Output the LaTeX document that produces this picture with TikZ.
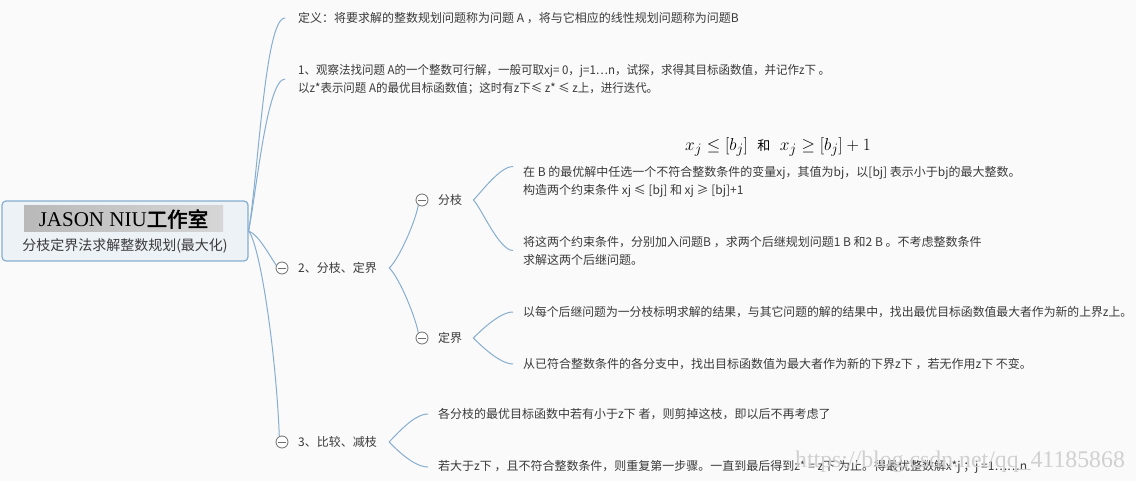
\documentclass[tikz,border=0pt]{standalone}
\usepackage{graphicx}
\usepackage{fontspec}
\setmainfont{Liberation Serif}
\newfontfamily\cjk{Noto Sans CJK SC}
\newfontfamily\cjkbold[FakeBold=2.5]{Noto Sans CJK SC}
\definecolor{bgc}{HTML}{FAFAFA}
\definecolor{txtc}{HTML}{3A3A3A}
\definecolor{togc}{HTML}{6E6E6E}
\definecolor{connc}{HTML}{87AED0}
\definecolor{rootd}{HTML}{86AECF}
\definecolor{rootf}{HTML}{EDF2F7}
\definecolor{wmc}{HTML}{D0D0D0}
\begin{document}
\begin{tikzpicture}[x=1pt,y=-1pt,
  conn/.style={draw=connc, line width=1pt},
  leaf/.style={anchor=west, inner sep=0pt, text=txtc, font=\cjk\fontsize{12}{18}\selectfont, align=left},
  tog/.style={circle, draw=togc, fill=white, line width=0.8pt, minimum size=12pt, inner sep=0pt,
    path picture={\draw[togc, line width=0.8pt] ([xshift=-4pt]path picture bounding box.center) -- ([xshift=4pt]path picture bounding box.center);}},
]
\fill[bgc] (0,0) rectangle (1136,481);
\useasboundingbox (0,0) rectangle (1136,481);

% root
\node[draw=rootd, fill=rootf, rounded corners=4pt, line width=1.2pt, minimum width=246pt, minimum height=60pt, inner sep=0pt] (root) at (125,231) {};
\node[left color=gray!55, right color=gray!32, minimum width=199pt, minimum height=26pt, inner sep=0pt] (banner) at (123.5,219) {};
\node[inner sep=0pt] (bt) at (banner.center) {\fontsize{21}{21}\selectfont JASON NIU{\cjkbold\fontsize{20.5}{21}\selectfont 工作室}};
\node[inner sep=0pt, text=txtc, font=\cjk\fontsize{14}{14}\selectfont] (sub) at (125,246) {分枝定界法求解整数规划(最大化)};

% first level
\node[leaf] (def) at (298,18) {定义：将要求解的整数规划问题称为问题 A ，将与它相应的线性规划问题称为问题B};
\node[leaf] (it1) at (298,79) {\resizebox{532pt}{\height}{1、观察法找问题 A的一个整数可行解，一般可取xj= 0，j=1…n，试探，求得其目标函数值，并记作z下 。}\\\resizebox{360pt}{\height}{以z*表示问题 A的最优目标函数值；这时有z下≤ z* ≤ z上，进行迭代。}};
\node[tog] (t2) at (282,268) {};
\node[leaf] (n2) at (298,268) {2、分枝、定界};
\node[tog] (t3) at (282,442) {};
\node[leaf] (n3) at (298,442) {3、比较、减枝};

% second level
\node[tog] (tf) at (422,200) {};
\node[leaf] (fz) at (438,200) {分枝};
\node[tog] (td) at (422,338) {};
\node[leaf] (dj) at (438,338) {定界};

% leaves
\node[inner sep=0pt, text=black] (fml) at (778,147) {\fontsize{19}{19}\selectfont $x_j \le [b_j]$\ \ {\cjk\fontsize{13}{13}\selectfont 和}\ \ $x_j \ge [b_j]+1$};
\node[leaf] (fz1) at (523,181.5) {在 B 的最优解中任选一个不符合整数条件的变量xj，其值为bj，以[bj] 表示小于bj的最大整数。\\构造两个约束条件 xj ≤ [bj] 和 xj ≥ [bj]+1};
\node[leaf] (fz2) at (523,250.5) {将这两个约束条件，分别加入问题B ，求两个后继规划问题1 B 和2 B 。不考虑整数条件\\求解这两个后继问题。};
\node[leaf] (dj1) at (523,312) {\resizebox{609pt}{\height}{以每个后继问题为一分枝标明求解的结果，与其它问题的解的结果中，找出最优目标函数值最大者作为新的上界z上。}};
\node[leaf] (dj2) at (523,364) {从已符合整数条件的各分支中，找出目标函数值为最大者作为新的下界z下 ，若无作用z下 不变。};
\node[leaf] (b1) at (438,414) {各分枝的最优目标函数中若有小于z下 者，则剪掉这枝，即以后不再考虑了};
\node[leaf] (b2) at (438,467) {\resizebox{589pt}{\height}{若大于z下 ，且不符合整数条件，则重复第一步骤。一直到最后得到z* = z下 为止。得最优整数解x*j ；j =1……n}};

% connectors
\draw[conn] (root.east) .. controls +(10,-60) and +(-20,0) .. ([xshift=-13pt]def.west);
\draw[conn] (root.east) .. controls +(8,-40) and +(-18,0) .. ([xshift=-13pt]it1.west);
\draw[conn] (root.east) .. controls +(10,4) and +(-8,-12) .. (t2.155);
\draw[conn] (root.east) .. controls +(12,15) and +(-3,-80) .. (t3.115);

\draw[conn] ([xshift=12pt]n2.east) .. controls +(8,-6) and +(-4,20) .. (tf.235);
\draw[conn] ([xshift=12pt]n2.east) .. controls +(8,6) and +(-4,-20) .. (td.125);

\draw[conn] ([xshift=11pt]fz.east) .. controls +(8,-8) and +(-13,0) .. ([xshift=-10pt,yshift=15pt]fz1.west);
\draw[conn] ([xshift=11pt]fz.east) .. controls +(8,8) and +(-14,0) .. ([xshift=-10pt]fz2.west);
\draw[conn] ([xshift=11pt]dj.east) .. controls +(8,-8) and +(-13,0) .. ([xshift=-10pt]dj1.west);
\draw[conn] ([xshift=11pt]dj.east) .. controls +(8,8) and +(-13,0) .. ([xshift=-10pt]dj2.west);
\draw[conn] ([xshift=12pt]n3.east) .. controls +(8,-8) and +(-14,0) .. ([xshift=-10pt]b1.west);
\draw[conn] ([xshift=12pt]n3.east) .. controls +(8,8) and +(-14,0) .. ([xshift=-10pt]b2.west);

% watermark
\node[text=wmc, font=\fontsize{23.8}{23.8}\selectfont, anchor=base west, inner sep=0pt] (wm) at (795,467) {https://blog.csdn.net/qq\_41185868};
\end{tikzpicture}
\end{document}
